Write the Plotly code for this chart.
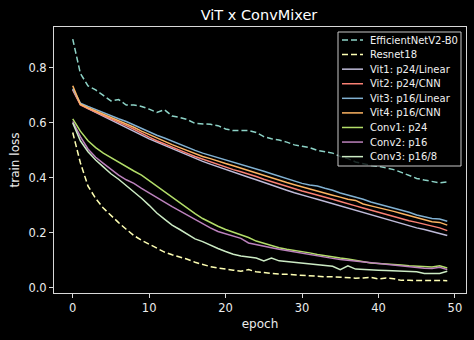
import plotly.graph_objects as go

epochs = list(range(50))

effnet = [0.905, 0.78, 0.735, 0.72, 0.70, 0.68, 0.685, 0.665, 0.665, 0.66,
          0.65, 0.638, 0.648, 0.625, 0.62, 0.612, 0.598, 0.597, 0.595, 0.59,
          0.578, 0.572, 0.572, 0.572, 0.565, 0.55, 0.542, 0.538, 0.53, 0.52,
          0.515, 0.51, 0.50, 0.496, 0.49, 0.478, 0.47, 0.458, 0.452, 0.445,
          0.442, 0.436, 0.43, 0.42, 0.41, 0.398, 0.392, 0.388, 0.382, 0.385]
resnet = [0.565, 0.455, 0.37, 0.325, 0.29, 0.262, 0.237, 0.213, 0.19, 0.173,
          0.158, 0.143, 0.13, 0.12, 0.113, 0.104, 0.093, 0.085, 0.077, 0.072,
          0.069, 0.064, 0.06, 0.066, 0.058, 0.055, 0.052, 0.05, 0.049, 0.047,
          0.045, 0.044, 0.042, 0.04, 0.04, 0.038, 0.037, 0.035, 0.036, 0.038,
          0.032, 0.036, 0.033, 0.027, 0.027, 0.027, 0.027, 0.026, 0.026, 0.026]
vit1 = [0.722, 0.668, 0.652, 0.638, 0.625, 0.612, 0.598, 0.585, 0.571, 0.556,
        0.542, 0.53, 0.518, 0.506, 0.494, 0.482, 0.47, 0.46, 0.45, 0.44,
        0.43, 0.42, 0.411, 0.402, 0.393, 0.383, 0.373, 0.364, 0.355, 0.346,
        0.337, 0.33, 0.322, 0.314, 0.305, 0.297, 0.288, 0.28, 0.272, 0.264,
        0.256, 0.248, 0.24, 0.232, 0.225, 0.218, 0.212, 0.205, 0.198, 0.19]
vit2 = [0.72, 0.665, 0.652, 0.64, 0.628, 0.615, 0.602, 0.59, 0.577, 0.562,
        0.548, 0.535, 0.523, 0.511, 0.5, 0.489, 0.478, 0.468, 0.458, 0.448,
        0.44, 0.43, 0.422, 0.414, 0.405, 0.395, 0.386, 0.377, 0.368, 0.36,
        0.352, 0.345, 0.338, 0.33, 0.322, 0.314, 0.305, 0.298, 0.29, 0.282,
        0.274, 0.266, 0.26, 0.252, 0.244, 0.238, 0.232, 0.225, 0.218, 0.208]
vit3 = [0.725, 0.672, 0.66, 0.648, 0.637, 0.627, 0.615, 0.605, 0.592, 0.578,
        0.567, 0.555, 0.545, 0.533, 0.522, 0.512, 0.5, 0.49, 0.482, 0.474,
        0.466, 0.458, 0.45, 0.441, 0.432, 0.424, 0.415, 0.406, 0.398, 0.39,
        0.38, 0.374, 0.37, 0.362, 0.355, 0.345, 0.338, 0.33, 0.322, 0.312,
        0.305, 0.298, 0.29, 0.283, 0.275, 0.265, 0.258, 0.252, 0.25, 0.242]
vit4 = [0.735, 0.668, 0.655, 0.643, 0.632, 0.62, 0.608, 0.597, 0.584, 0.57,
        0.557, 0.545, 0.533, 0.521, 0.51, 0.499, 0.488, 0.478, 0.47, 0.46,
        0.452, 0.444, 0.435, 0.427, 0.418, 0.408, 0.4, 0.391, 0.383, 0.375,
        0.367, 0.36, 0.353, 0.345, 0.337, 0.33, 0.322, 0.318, 0.305, 0.298,
        0.292, 0.285, 0.278, 0.27, 0.262, 0.255, 0.248, 0.24, 0.238, 0.228]
conv1 = [0.615, 0.57, 0.535, 0.51, 0.49, 0.473, 0.457, 0.44, 0.425, 0.41,
         0.39, 0.37, 0.348, 0.328, 0.308, 0.288, 0.27, 0.252, 0.237, 0.224,
         0.212, 0.202, 0.193, 0.183, 0.17, 0.162, 0.152, 0.146, 0.14, 0.136,
         0.131, 0.127, 0.121, 0.116, 0.112, 0.108, 0.105, 0.1, 0.093, 0.09,
         0.088, 0.087, 0.085, 0.083, 0.08, 0.078, 0.078, 0.076, 0.08, 0.072]
conv2 = [0.605, 0.55, 0.505, 0.475, 0.453, 0.43, 0.41, 0.393, 0.38, 0.362,
         0.345, 0.327, 0.31, 0.295, 0.28, 0.264, 0.25, 0.232, 0.218, 0.205,
         0.197, 0.188, 0.18, 0.163, 0.158, 0.152, 0.146, 0.14, 0.135, 0.13,
         0.125, 0.12, 0.116, 0.112, 0.107, 0.103, 0.1, 0.096, 0.093, 0.09,
         0.087, 0.084, 0.082, 0.079, 0.076, 0.073, 0.071, 0.07, 0.075, 0.066]
conv3 = [0.6, 0.535, 0.495, 0.465, 0.44, 0.415, 0.395, 0.372, 0.35, 0.326,
         0.3, 0.272, 0.25, 0.228, 0.212, 0.196, 0.178, 0.168, 0.155, 0.143,
         0.132, 0.122, 0.116, 0.112, 0.108, 0.098, 0.108, 0.098, 0.095, 0.093,
         0.09, 0.088, 0.085, 0.08, 0.078, 0.066, 0.08, 0.068, 0.066, 0.066,
         0.064, 0.063, 0.062, 0.061, 0.06, 0.058, 0.052, 0.051, 0.052, 0.06]

series = [
    ("EfficientNetV2-B0", effnet, "#8dd3c7", "6px,3px"),
    ("Resnet18", resnet, "#feffb3", "6px,3px"),
    ("Vit1: p24/Linear", vit1, "#bfbbd9", "solid"),
    ("Vit2: p24/CNN", vit2, "#fa8174", "solid"),
    ("Vit3: p16/Linear", vit3, "#81b1d2", "solid"),
    ("Vit4: p16/CNN", vit4, "#fdb462", "solid"),
    ("Conv1: p24", conv1, "#b3de69", "solid"),
    ("Conv2: p16", conv2, "#bc82bd", "solid"),
    ("Conv3: p16/8", conv3, "#ccebc4", "solid"),
]

W, H = 474, 340
ML, MR, MT, MB = 54, 8, 27, 47
PW, PH = W - ML - MR, H - MT - MB


def pxx(px):
    return (px - ML) / PW


def pxy(py):
    return (H - MB - py) / PH


fig = go.Figure()
for name, vals, color, dash in series:
    fig.add_trace(go.Scatter(x=epochs, y=vals, mode="lines", name=name,
                             line=dict(color=color, width=1.5, dash=dash),
                             showlegend=False))

# matplotlib-style legend box (drawn as layout decoration)
shapes = [dict(type="rect", xref="paper", yref="paper", layer="above",
               x0=pxx(338), x1=pxx(461), y0=pxy(166), y1=pxy(32),
               fillcolor="rgba(0,0,0,0.8)", line=dict(color="#c8c8c8", width=1))]
annotations = []
for i, (name, vals, color, dash) in enumerate(series):
    cy = 40 + i * 14.58
    shapes.append(dict(type="line", xref="paper", yref="paper", layer="above",
                       x0=pxx(342), x1=pxx(363), y0=pxy(cy), y1=pxy(cy),
                       line=dict(color=color, width=1.5, dash=dash)))
    annotations.append(dict(text=name, xref="paper", yref="paper", x=pxx(369), y=pxy(cy),
                            xanchor="left", yanchor="middle", showarrow=False, borderpad=0,
                            font=dict(family="DejaVu Sans", size=10, color="#f0f0f0")))

font = "DejaVu Sans"
axis_common = dict(showline=True, mirror=True, linecolor="#d8d8d8", linewidth=1,
                   ticks="outside", ticklen=4, tickcolor="#d8d8d8", showgrid=False,
                   zeroline=False, tickfont=dict(family=font, size=11.5, color="#ececec"))

fig.update_layout(
    width=W, height=H,
    margin=dict(l=ML, r=MR, t=MT, b=MB),
    paper_bgcolor="black", plot_bgcolor="black",
    title=dict(text="ViT x ConvMixer", x=259 / W, xanchor="center", y=1 - 15 / H, yanchor="middle",
               font=dict(family=font, size=14.5, color="white")),
    xaxis=dict(range=[-2.45, 51.45], tickvals=[0, 10, 20, 30, 40, 50],
               title=dict(text="epoch", font=dict(family=font, size=12, color="#ececec"), standoff=5),
               **axis_common),
    yaxis=dict(range=[-0.019, 0.949], tickvals=[0, 0.2, 0.4, 0.6, 0.8], tickformat=".1f",
               title=dict(text="train loss", font=dict(family=font, size=12, color="#ececec"), standoff=6),
               **axis_common),
    shapes=shapes,
    annotations=annotations,
    showlegend=False,
)

fig.write_html("out.html")
